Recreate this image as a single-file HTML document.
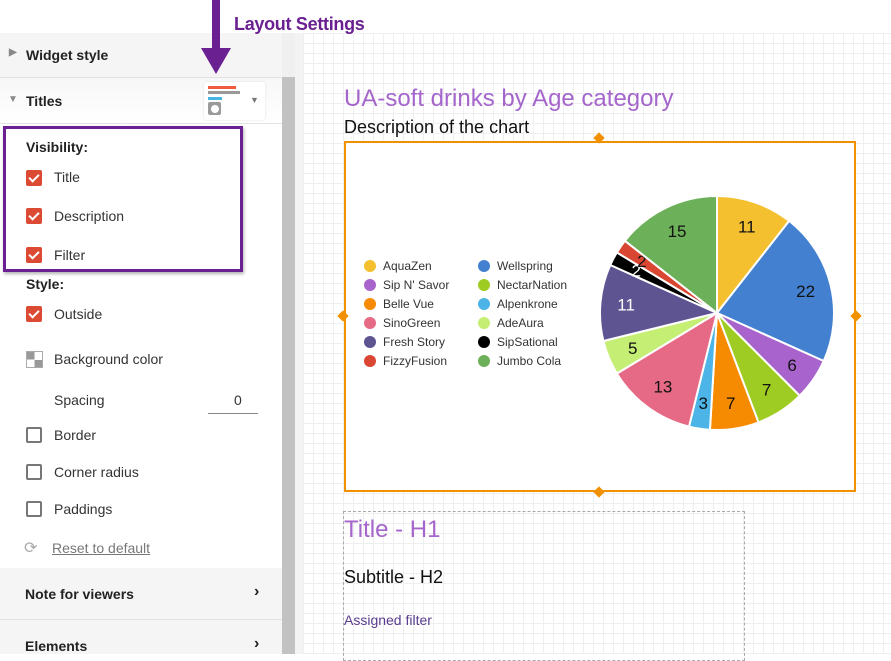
<!DOCTYPE html>
<html><head><meta charset="utf-8"><style>
*{margin:0;padding:0;box-sizing:border-box}
body{width:891px;height:654px;overflow:hidden;position:relative;background:#fff;font-family:"Liberation Sans",Arial,sans-serif;color:#222}
.a{position:absolute}
.row{position:absolute;left:0;width:282px;background:#f5f5f5;border-bottom:1px solid #e2e2e2;font-size:14px;font-weight:bold;color:#222}
.cb{position:absolute;left:26px;width:16px;height:16px;border-radius:2px;background:#dc4a33}
.cb:after{content:"";position:absolute;left:5px;top:2px;width:4px;height:8px;border:solid #fff;border-width:0 2px 2px 0;transform:rotate(45deg)}
.ub{position:absolute;left:26px;width:16px;height:16px;border:2px solid #777;border-radius:2px}
.lb{position:absolute;font-size:14px;color:#333}
.canvas{position:absolute;left:303px;top:33px;width:588px;height:621px;background-color:#fff;background-image:linear-gradient(#efefef 1px,transparent 1px),linear-gradient(90deg,#efefef 1px,transparent 1px);background-size:10px 10px}
.lg{position:absolute;font-size:12px;color:#333}
.dot{position:absolute;width:12px;height:12px;border-radius:50%}
.dm{position:absolute;width:8px;height:8px;background:#f29100;transform:rotate(45deg)}
</style></head><body>
<div class="a" style="left:0;top:0;width:303px;height:654px;background:#fff"></div>
<div class="a" style="left:282px;top:33px;width:13px;height:44px;background:#f0f0f0"></div>
<div class="a" style="left:282px;top:77px;width:13px;height:577px;background:#c2c2c2"></div>
<div class="a" style="left:295px;top:33px;width:8px;height:621px;background:#f3f3f3"></div>
<div class="canvas"></div>

<div class="row" style="top:33px;height:45px"><span class="a" style="left:9px;top:14px;font-size:10px;color:#888">▶</span><span class="a" style="left:26px;top:14px">Widget style</span></div>
<div class="row" style="top:78px;height:46px;background:linear-gradient(#f7f7f7,#fff)"><span class="a" style="left:8px;top:16px;font-size:10px;color:#888">▼</span><span class="a" style="left:26px;top:15px">Titles</span></div>
<div class="a" style="left:204px;top:82px;width:61px;height:38px;background:#fff;border-radius:3px;box-shadow:0 0 2px #ddd"></div>
<div class="a" style="left:208px;top:86px;width:28px;height:3px;background:#ef5b3c"></div>
<div class="a" style="left:208px;top:91px;width:32px;height:3px;background:#999"></div>
<div class="a" style="left:208px;top:97px;width:14px;height:3px;background:#45b6e3"></div>
<div class="a" style="left:208px;top:102px;width:13px;height:13px;background:#9a9a9a;border-radius:2px"></div>
<div class="a" style="left:211px;top:105px;width:8px;height:8px;background:#fff;border-radius:50%"></div>
<span class="a" style="left:250px;top:95px;font-size:9px;color:#777">▼</span>

<div class="a" style="left:212px;top:0;width:8px;height:50px;background:#6a2090"></div>
<div class="a" style="left:201px;top:48px;width:0;height:0;border-left:15px solid transparent;border-right:15px solid transparent;border-top:26px solid #6a2090"></div>
<div class="a" style="left:234px;top:14px;font-size:18px;font-weight:bold;color:#6a2090;letter-spacing:-0.3px">Layout Settings</div>

<div class="a" style="left:3px;top:126px;width:240px;height:146px;border:3px solid #6a2090;box-shadow:1px 2px 3px rgba(0,0,0,.3)"></div>
<div class="a" style="left:26px;top:139px;font-size:14px;font-weight:bold">Visibility:</div>
<div class="cb" style="top:170px"></div><div class="lb" style="left:54px;top:169px">Title</div>
<div class="cb" style="top:208px"></div><div class="lb" style="left:54px;top:208px">Description</div>
<div class="cb" style="top:247px"></div><div class="lb" style="left:54px;top:247px">Filter</div>
<div class="a" style="left:26px;top:276px;font-size:14px;font-weight:bold">Style:</div>
<div class="cb" style="top:306px"></div><div class="lb" style="left:54px;top:306px">Outside</div>
<div class="a" style="left:26px;top:351px;width:17px;height:17px;border:1px solid #aaa;background:linear-gradient(90deg,#999 50%,#fff 50%) top/100% 50% no-repeat,linear-gradient(90deg,#fff 50%,#999 50%) bottom/100% 50% no-repeat"></div>
<div class="lb" style="left:54px;top:351px">Background color</div>
<div class="lb" style="left:54px;top:392px">Spacing</div>
<div class="lb" style="left:234px;top:392px">0</div>
<div class="a" style="left:208px;top:413px;width:50px;height:1px;background:#888"></div>
<div class="ub" style="top:427px"></div><div class="lb" style="left:54px;top:427px">Border</div>
<div class="ub" style="top:464px"></div><div class="lb" style="left:54px;top:464px">Corner radius</div>
<div class="ub" style="top:501px"></div><div class="lb" style="left:54px;top:501px">Paddings</div>
<div class="a" style="left:24px;top:538px;font-size:16px;color:#aaa">⟳</div>
<div class="lb" style="left:52px;top:540px;color:#777;text-decoration:underline">Reset to default</div>
<div class="row" style="top:568px;height:52px"><span class="a" style="left:25px;top:18px">Note for viewers</span><span class="a" style="left:254px;top:15px;font-size:16px">›</span></div>
<div class="row" style="top:620px;height:34px;border:none"><span class="a" style="left:25px;top:18px">Elements</span><span class="a" style="left:254px;top:15px;font-size:16px">›</span></div>

<div class="a" style="left:344px;top:85px;font-size:24px;color:#a566cc">UA-soft drinks by Age category</div>
<div class="a" style="left:344px;top:117px;font-size:18px;color:#111">Description of the chart</div>
<div class="a" style="left:344px;top:141px;width:512px;height:351px;border:2px solid #f29100;background:#fff"></div>
<div class="dm" style="left:595px;top:134px"></div>
<div class="dm" style="left:595px;top:488px"></div>
<div class="dm" style="left:339px;top:312px"></div>
<div class="dm" style="left:852px;top:312px"></div>

<div class="dot" style="left:364px;top:260px;background:#f4c030"></div><div class="lg" style="left:383px;top:259px">AquaZen</div>
<div class="dot" style="left:364px;top:279px;background:#a864cc"></div><div class="lg" style="left:383px;top:278px">Sip N' Savor</div>
<div class="dot" style="left:364px;top:298px;background:#f68a00"></div><div class="lg" style="left:383px;top:297px">Belle Vue</div>
<div class="dot" style="left:364px;top:317px;background:#e66a86"></div><div class="lg" style="left:383px;top:316px">SinoGreen</div>
<div class="dot" style="left:364px;top:336px;background:#5e5492"></div><div class="lg" style="left:383px;top:335px">Fresh Story</div>
<div class="dot" style="left:364px;top:355px;background:#d94632"></div><div class="lg" style="left:383px;top:354px">FizzyFusion</div>
<div class="dot" style="left:478px;top:260px;background:#4380d0"></div><div class="lg" style="left:497px;top:259px">Wellspring</div>
<div class="dot" style="left:478px;top:279px;background:#9ecc22"></div><div class="lg" style="left:497px;top:278px">NectarNation</div>
<div class="dot" style="left:478px;top:298px;background:#4cb4e6"></div><div class="lg" style="left:497px;top:297px">Alpenkrone</div>
<div class="dot" style="left:478px;top:317px;background:#c4ee74"></div><div class="lg" style="left:497px;top:316px">AdeAura</div>
<div class="dot" style="left:478px;top:336px;background:#000"></div><div class="lg" style="left:497px;top:335px">SipSational</div>
<div class="dot" style="left:478px;top:355px;background:#6db05a"></div><div class="lg" style="left:497px;top:354px">Jumbo Cola</div>

<svg class="a" style="left:0;top:0" width="891" height="654" id="pie"></svg>

<div class="a" style="left:343px;top:511px;width:402px;height:150px;border:1px dashed #aaa"></div>
<div class="a" style="left:344px;top:516px;font-size:24px;color:#a566cc">Title - H1</div>
<div class="a" style="left:344px;top:567px;font-size:18px;color:#111">Subtitle - H2</div>
<div class="a" style="left:344px;top:612px;font-size:14px;color:#5a3c90">Assigned filter</div>

<script>
var d=[[11,"#f4c030","#111"],[22,"#4380d0","#111"],[6,"#a864cc","#111"],[7,"#9ecc22","#111"],[7,"#f68a00","#111"],[3,"#4cb4e6","#111"],[13,"#e66a86","#111"],[5,"#c4ee74","#111"],[11,"#5e5492","#fff"],[2,"#000","#fff"],[2,"#d94632","#111"],[15,"#6db05a","#111"]];
var cx=717,cy=313,r=117,t=104,a=0,s="";
d.forEach(function(e){var a0=a,a1=a+e[0]/t*2*Math.PI;a=a1;
function p(ang,rr){return [cx+rr*Math.sin(ang),cy-rr*Math.cos(ang)];}
var p0=p(a0,r),p1=p(a1,r),lg=(a1-a0)>Math.PI?1:0;
s+='<path d="M'+cx+','+cy+'L'+p0[0]+','+p0[1]+'A'+r+','+r+' 0 '+lg+' 1 '+p1[0]+','+p1[1]+'Z" fill="'+e[1]+'" stroke="#fff" stroke-width="2" stroke-linejoin="round"/>';
var m=(a0+a1)/2,lp=p(m,r*0.78);
s+='<text x="'+lp[0]+'" y="'+(lp[1]+6)+'" text-anchor="middle" font-family="Liberation Sans,sans-serif" font-size="17" fill="'+e[2]+'">'+e[0]+'</text>';});
document.getElementById("pie").innerHTML=s;
</script>
</body></html>
